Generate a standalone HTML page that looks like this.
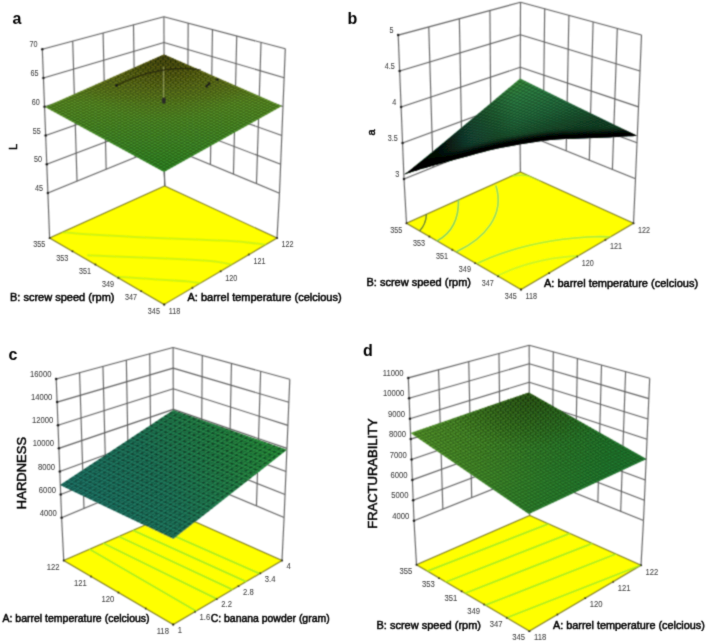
<!DOCTYPE html>
<html lang="en"><head><meta charset="utf-8"><title>Response surface plots</title>
<style>html,body{margin:0;padding:0;background:#fff}svg{display:block}text{font-family:"Liberation Sans",Arial,sans-serif}</style></head>
<body>
<svg width="708" height="642" viewBox="0 0 708 642">
<defs><pattern id="vs" patternUnits="userSpaceOnUse" width="5" height="6"><rect x="0" y="0" width="1.2" height="3.4" fill="#0c1c02"/><rect x="2.5" y="3" width="1.2" height="3.4" fill="#0c1c02"/></pattern>
<pattern id="dots" patternUnits="userSpaceOnUse" width="1" height="1" patternTransform="matrix(4.72 -3.125 4.72 2.25 60 485)"><rect x="0" y="0" width="0.4" height="0.4" fill="#02140f"/></pattern>
<radialGradient id="mag" gradientUnits="userSpaceOnUse" cx="164" cy="56" r="62" gradientTransform="translate(164 56) scale(1.9 1) translate(-164 -56)"><stop offset="0" stop-color="#fff" stop-opacity="0.85"/><stop offset="0.5" stop-color="#fff" stop-opacity="0.4"/><stop offset="1" stop-color="#fff" stop-opacity="0.05"/></radialGradient>
<mask id="ma" maskUnits="userSpaceOnUse" x="0" y="0" width="708" height="642"><rect width="708" height="642" fill="url(#mag)"/></mask>
<radialGradient id="mdg" gradientUnits="userSpaceOnUse" cx="528.8" cy="394" r="85" gradientTransform="translate(528.8 394) scale(1.7 1) translate(-528.8 -394)"><stop offset="0" stop-color="#fff" stop-opacity="0.8"/><stop offset="0.5" stop-color="#fff" stop-opacity="0.45"/><stop offset="1" stop-color="#fff" stop-opacity="0.12"/></radialGradient>
<mask id="md" maskUnits="userSpaceOnUse" x="0" y="0" width="708" height="642"><rect width="708" height="642" fill="url(#mdg)"/></mask>
<radialGradient id="mcg" gradientUnits="userSpaceOnUse" cx="200" cy="445" r="120" gradientTransform="translate(200 445) scale(1.5 1) translate(-200 -445)"><stop offset="0" stop-color="#fff" stop-opacity="0.75"/><stop offset="0.5" stop-color="#fff" stop-opacity="0.55"/><stop offset="1" stop-color="#fff" stop-opacity="0.3"/></radialGradient>
<mask id="mc" maskUnits="userSpaceOnUse" x="0" y="0" width="708" height="642"><rect width="708" height="642" fill="url(#mcg)"/></mask>
<linearGradient id="ga" gradientUnits="userSpaceOnUse" x1="164" y1="54" x2="164" y2="172"><stop offset="0" stop-color="#5f5c14"/><stop offset="0.18" stop-color="#6f7a1c"/><stop offset="0.42" stop-color="#5e9428"/><stop offset="0.75" stop-color="#44902a"/><stop offset="1" stop-color="#2f8a26"/></linearGradient>
<radialGradient id="ga2" gradientUnits="userSpaceOnUse" cx="164" cy="58" r="62" gradientTransform="translate(164 58) scale(1.6 1) translate(-164 -58)"><stop offset="0" stop-color="#55500f" stop-opacity="0.85"/><stop offset="0.55" stop-color="#6a7018" stop-opacity="0.45"/><stop offset="1" stop-color="#6a7018" stop-opacity="0"/></radialGradient>
<linearGradient id="gb" gradientUnits="userSpaceOnUse" x1="505" y1="78" x2="530" y2="146"><stop offset="0" stop-color="#3c8c34"/><stop offset="0.3" stop-color="#2e8244"/><stop offset="0.65" stop-color="#246e3e"/><stop offset="1" stop-color="#174a2a"/></linearGradient>
<radialGradient id="gb3" gradientUnits="userSpaceOnUse" cx="462" cy="138" r="34"><stop offset="0" stop-color="#2a8a78" stop-opacity="0.75"/><stop offset="1" stop-color="#2a8a78" stop-opacity="0"/></radialGradient>
<linearGradient id="gb2" gradientUnits="userSpaceOnUse" x1="404" y1="0" x2="515" y2="0"><stop offset="0" stop-color="#000" stop-opacity="1"/><stop offset="0.32" stop-color="#000" stop-opacity="0.88"/><stop offset="0.6" stop-color="#000" stop-opacity="0.4"/><stop offset="1" stop-color="#000" stop-opacity="0"/></linearGradient>
<filter id="bl3" x="-10%" y="-50%" width="120%" height="200%"><feGaussianBlur stdDeviation="2.2"/></filter>
<linearGradient id="gc" gradientUnits="userSpaceOnUse" x1="95" y1="520" x2="262" y2="420"><stop offset="0" stop-color="#1f7668"/><stop offset="0.4" stop-color="#217a5c"/><stop offset="0.75" stop-color="#278846"/><stop offset="1" stop-color="#2a943a"/></linearGradient>
<linearGradient id="gd" gradientUnits="userSpaceOnUse" x1="425" y1="420" x2="600" y2="500"><stop offset="0" stop-color="#57982c"/><stop offset="0.35" stop-color="#478e2a"/><stop offset="0.7" stop-color="#2f822e"/><stop offset="1" stop-color="#217a30"/></linearGradient>
<radialGradient id="gd2" gradientUnits="userSpaceOnUse" cx="528" cy="398" r="50" gradientTransform="translate(528 398) scale(1.7 1) translate(-528 -398)"><stop offset="0" stop-color="#2a4a10" stop-opacity="0.6"/><stop offset="1" stop-color="#2a4a10" stop-opacity="0"/></radialGradient><filter id="soft" x="-2%" y="-2%" width="104%" height="104%"><feConvolveMatrix order="3" kernelMatrix="0.0400 0.1200 0.0400 0.1200 0.3600 0.1200 0.0400 0.1200 0.0400" edgeMode="duplicate" preserveAlpha="false"/></filter><filter id="softt" x="-2%" y="-2%" width="104%" height="104%"><feConvolveMatrix order="3" kernelMatrix="0.0169 0.0962 0.0169 0.0962 0.5476 0.0962 0.0169 0.0962 0.0169" edgeMode="duplicate" preserveAlpha="false"/></filter></defs>
<rect width="708" height="642" fill="#fff"/>
<g filter="url(#soft)">
<g>
<g class="walls">
<line x1="42.3" y1="49.2" x2="163.9" y2="16.7" stroke="#5e5e5e" stroke-width="1.12"/>
<line x1="43.42" y1="77.98" x2="164" y2="42.46" stroke="#5e5e5e" stroke-width="1.12"/>
<line x1="44.54" y1="106.76" x2="164.1" y2="68.22" stroke="#5e5e5e" stroke-width="1.12"/>
<line x1="45.66" y1="135.54" x2="164.2" y2="93.98" stroke="#5e5e5e" stroke-width="1.12"/>
<line x1="46.78" y1="164.32" x2="164.3" y2="119.74" stroke="#5e5e5e" stroke-width="1.12"/>
<line x1="47.9" y1="193.1" x2="164.4" y2="145.5" stroke="#5e5e5e" stroke-width="1.12"/>
<line x1="42.3" y1="49.2" x2="47.9" y2="193.1" stroke="#5e5e5e" stroke-width="1.12"/>
<line x1="72.7" y1="41.08" x2="77.03" y2="181.2" stroke="#5e5e5e" stroke-width="1.12"/>
<line x1="103.1" y1="32.95" x2="106.15" y2="169.3" stroke="#5e5e5e" stroke-width="1.12"/>
<line x1="133.5" y1="24.83" x2="135.28" y2="157.4" stroke="#5e5e5e" stroke-width="1.12"/>
<line x1="285.3" y1="48.8" x2="163.9" y2="16.7" stroke="#5e5e5e" stroke-width="1.12"/>
<line x1="284.14" y1="77.68" x2="164" y2="42.46" stroke="#5e5e5e" stroke-width="1.12"/>
<line x1="282.98" y1="106.56" x2="164.1" y2="68.22" stroke="#5e5e5e" stroke-width="1.12"/>
<line x1="281.82" y1="135.44" x2="164.2" y2="93.98" stroke="#5e5e5e" stroke-width="1.12"/>
<line x1="280.66" y1="164.32" x2="164.3" y2="119.74" stroke="#5e5e5e" stroke-width="1.12"/>
<line x1="279.5" y1="193.2" x2="164.4" y2="145.5" stroke="#5e5e5e" stroke-width="1.12"/>
<line x1="285.3" y1="48.8" x2="279.5" y2="193.2" stroke="#5e5e5e" stroke-width="1.12"/>
<line x1="261.02" y1="42.38" x2="256.48" y2="183.66" stroke="#5e5e5e" stroke-width="1.12"/>
<line x1="236.74" y1="35.96" x2="233.46" y2="174.12" stroke="#5e5e5e" stroke-width="1.12"/>
<line x1="212.46" y1="29.54" x2="210.44" y2="164.58" stroke="#5e5e5e" stroke-width="1.12"/>
<line x1="188.18" y1="23.12" x2="187.42" y2="155.04" stroke="#5e5e5e" stroke-width="1.12"/>
<line x1="47.9" y1="193.1" x2="49.6" y2="238" stroke="#5e5e5e" stroke-width="1.12"/>
<line x1="279.5" y1="193.2" x2="277" y2="238" stroke="#5e5e5e" stroke-width="1.12"/>
<line x1="163.9" y1="16.7" x2="164.4" y2="145.5" stroke="#5e5e5e" stroke-width="1.12"/>
<line x1="164.4" y1="145.5" x2="164.6" y2="186" stroke="#5e5e5e" stroke-width="1.12"/>
</g>
<polygon points="49.6,238 164.6,186 277,238 164.2,304.4" fill="#ffff00" stroke="#727014" stroke-width="1.1" stroke-linejoin="round"/>
<clipPath id="cfa"><polygon points="49.6,238 164.6,186 277,238 164.2,304.4"/></clipPath>
<g fill="none" stroke-linecap="round" clip-path="url(#cfa)">
<path d="M60,232 C100,236 170,238.700 226.800,240.700 C245,241.500 258,243.500 272,246" stroke="#b6ee14" stroke-width="2.1" opacity="0.65"/>
<path d="M88,255.300 C120,257 170,257.900 210.600,261 C222,262 230,264 240,266.500" stroke="#b6ee14" stroke-width="2.1" opacity="0.65"/>
<path d="M114,276.500 C140,278.500 170,280.200 186.300,281.200 C194,282 200,283 208,285" stroke="#b6ee14" stroke-width="2.1" opacity="0.65"/>
</g>
<g><polygon points="45,107 164,54.5 282,106 164,172" fill="url(#ga)"/><polygon points="45,107 164,54.5 282,106 164,172" fill="url(#ga2)"/><g stroke="#122404" stroke-width="0.6" opacity="0.6"><line x1="47.98" y1="105.69" x2="166.95" y2="170.35"/><line x1="50.95" y1="104.38" x2="169.9" y2="168.7"/><line x1="53.92" y1="103.06" x2="172.85" y2="167.05"/><line x1="56.9" y1="101.75" x2="175.8" y2="165.4"/><line x1="59.88" y1="100.44" x2="178.75" y2="163.75"/><line x1="62.85" y1="99.12" x2="181.7" y2="162.1"/><line x1="65.83" y1="97.81" x2="184.65" y2="160.45"/><line x1="68.8" y1="96.5" x2="187.6" y2="158.8"/><line x1="71.78" y1="95.19" x2="190.55" y2="157.15"/><line x1="74.75" y1="93.88" x2="193.5" y2="155.5"/><line x1="77.72" y1="92.56" x2="196.45" y2="153.85"/><line x1="80.7" y1="91.25" x2="199.4" y2="152.2"/><line x1="83.68" y1="89.94" x2="202.35" y2="150.55"/><line x1="86.65" y1="88.62" x2="205.3" y2="148.9"/><line x1="89.62" y1="87.31" x2="208.25" y2="147.25"/><line x1="92.6" y1="86" x2="211.2" y2="145.6"/><line x1="95.57" y1="84.69" x2="214.15" y2="143.95"/><line x1="98.55" y1="83.38" x2="217.1" y2="142.3"/><line x1="101.53" y1="82.06" x2="220.05" y2="140.65"/><line x1="104.5" y1="80.75" x2="223" y2="139"/><line x1="107.47" y1="79.44" x2="225.95" y2="137.35"/><line x1="110.45" y1="78.12" x2="228.9" y2="135.7"/><line x1="113.42" y1="76.81" x2="231.85" y2="134.05"/><line x1="116.4" y1="75.5" x2="234.8" y2="132.4"/><line x1="119.38" y1="74.19" x2="237.75" y2="130.75"/><line x1="122.35" y1="72.88" x2="240.7" y2="129.1"/><line x1="125.33" y1="71.56" x2="243.65" y2="127.45"/><line x1="128.3" y1="70.25" x2="246.6" y2="125.8"/><line x1="131.27" y1="68.94" x2="249.55" y2="124.15"/><line x1="134.25" y1="67.62" x2="252.5" y2="122.5"/><line x1="137.23" y1="66.31" x2="255.45" y2="120.85"/><line x1="140.2" y1="65" x2="258.4" y2="119.2"/><line x1="143.18" y1="63.69" x2="261.35" y2="117.55"/><line x1="146.15" y1="62.38" x2="264.3" y2="115.9"/><line x1="149.12" y1="61.06" x2="267.25" y2="114.25"/><line x1="152.1" y1="59.75" x2="270.2" y2="112.6"/><line x1="155.07" y1="58.44" x2="273.15" y2="110.95"/><line x1="158.05" y1="57.12" x2="276.1" y2="109.3"/><line x1="161.02" y1="55.81" x2="279.05" y2="107.65"/><line x1="47.98" y1="108.62" x2="166.95" y2="55.79"/><line x1="50.95" y1="110.25" x2="169.9" y2="57.08"/><line x1="53.92" y1="111.88" x2="172.85" y2="58.36"/><line x1="56.9" y1="113.5" x2="175.8" y2="59.65"/><line x1="59.88" y1="115.12" x2="178.75" y2="60.94"/><line x1="62.85" y1="116.75" x2="181.7" y2="62.23"/><line x1="65.83" y1="118.38" x2="184.65" y2="63.51"/><line x1="68.8" y1="120" x2="187.6" y2="64.8"/><line x1="71.78" y1="121.62" x2="190.55" y2="66.09"/><line x1="74.75" y1="123.25" x2="193.5" y2="67.38"/><line x1="77.72" y1="124.88" x2="196.45" y2="68.66"/><line x1="80.7" y1="126.5" x2="199.4" y2="69.95"/><line x1="83.68" y1="128.12" x2="202.35" y2="71.24"/><line x1="86.65" y1="129.75" x2="205.3" y2="72.53"/><line x1="89.62" y1="131.38" x2="208.25" y2="73.81"/><line x1="92.6" y1="133" x2="211.2" y2="75.1"/><line x1="95.57" y1="134.62" x2="214.15" y2="76.39"/><line x1="98.55" y1="136.25" x2="217.1" y2="77.67"/><line x1="101.53" y1="137.88" x2="220.05" y2="78.96"/><line x1="104.5" y1="139.5" x2="223" y2="80.25"/><line x1="107.47" y1="141.12" x2="225.95" y2="81.54"/><line x1="110.45" y1="142.75" x2="228.9" y2="82.83"/><line x1="113.42" y1="144.38" x2="231.85" y2="84.11"/><line x1="116.4" y1="146" x2="234.8" y2="85.4"/><line x1="119.38" y1="147.62" x2="237.75" y2="86.69"/><line x1="122.35" y1="149.25" x2="240.7" y2="87.97"/><line x1="125.33" y1="150.88" x2="243.65" y2="89.26"/><line x1="128.3" y1="152.5" x2="246.6" y2="90.55"/><line x1="131.27" y1="154.12" x2="249.55" y2="91.84"/><line x1="134.25" y1="155.75" x2="252.5" y2="93.12"/><line x1="137.23" y1="157.38" x2="255.45" y2="94.41"/><line x1="140.2" y1="159" x2="258.4" y2="95.7"/><line x1="143.18" y1="160.62" x2="261.35" y2="96.99"/><line x1="146.15" y1="162.25" x2="264.3" y2="98.28"/><line x1="149.12" y1="163.88" x2="267.25" y2="99.56"/><line x1="152.1" y1="165.5" x2="270.2" y2="100.85"/><line x1="155.07" y1="167.12" x2="273.15" y2="102.14"/><line x1="158.05" y1="168.75" x2="276.1" y2="103.42"/><line x1="161.02" y1="170.38" x2="279.05" y2="104.71"/></g><polygon points="45,107 164,54.5 282,106 164,172" fill="url(#vs)" mask="url(#ma)"/><line x1="163.6" y1="67" x2="163.6" y2="98" stroke="#d4dc9a" stroke-width="1.1" opacity="0.45"/><path d="M116.5,85.4 C128,79.5 146,72.5 164.3,69.8 C176,68.3 190,67.6 201,70" fill="none" stroke="#1c1a06" stroke-width="1.2" opacity="0.75"/><circle cx="116.5" cy="85.6" r="1.6" fill="#1a1a1a"/><circle cx="217.5" cy="79.7" r="1.4" fill="#1a1a1a"/><path d="M205.6,87.2 L210.2,82.6" stroke="#1a1a1a" stroke-width="2.2"/><ellipse cx="163.8" cy="100.5" rx="2.1" ry="3.3" fill="#2c2c26"/><line x1="164" y1="172" x2="165" y2="186" stroke="#5e5e5e" stroke-width="1.12"/></g>
<circle cx="42.3" cy="49.2" r="1.25" fill="#111"/>
<circle cx="43.42" cy="77.98" r="1.25" fill="#111"/>
<circle cx="44.54" cy="106.76" r="1.25" fill="#111"/>
<circle cx="45.66" cy="135.54" r="1.25" fill="#111"/>
<circle cx="46.78" cy="164.32" r="1.25" fill="#111"/>
<circle cx="47.9" cy="193.1" r="1.25" fill="#111"/>
<circle cx="49.6" cy="238" r="1" fill="#111"/>
<circle cx="72.52" cy="251.28" r="1" fill="#111"/>
<circle cx="95.44" cy="264.56" r="1" fill="#111"/>
<circle cx="118.36" cy="277.84" r="1" fill="#111"/>
<circle cx="141.28" cy="291.12" r="1" fill="#111"/>
<circle cx="164.2" cy="304.4" r="1" fill="#111"/>
<circle cx="277" cy="238" r="1" fill="#111"/>
<circle cx="248.8" cy="254.6" r="1" fill="#111"/>
<circle cx="220.6" cy="271.2" r="1" fill="#111"/>
<circle cx="192.4" cy="287.8" r="1" fill="#111"/>
<circle cx="164.2" cy="304.4" r="1" fill="#111"/>
</g>
<g>
<g class="walls">
<line x1="398.2" y1="35.1" x2="520.5" y2="2.3" stroke="#5e5e5e" stroke-width="1.12"/>
<line x1="399.65" y1="71.08" x2="520.38" y2="34.8" stroke="#5e5e5e" stroke-width="1.12"/>
<line x1="401.1" y1="107.05" x2="520.25" y2="67.3" stroke="#5e5e5e" stroke-width="1.12"/>
<line x1="402.55" y1="143.03" x2="520.12" y2="99.8" stroke="#5e5e5e" stroke-width="1.12"/>
<line x1="404" y1="179" x2="520" y2="132.3" stroke="#5e5e5e" stroke-width="1.12"/>
<line x1="398.2" y1="35.1" x2="404" y2="179" stroke="#5e5e5e" stroke-width="1.12"/>
<line x1="428.77" y1="26.9" x2="433" y2="167.32" stroke="#5e5e5e" stroke-width="1.12"/>
<line x1="459.35" y1="18.7" x2="462" y2="155.65" stroke="#5e5e5e" stroke-width="1.12"/>
<line x1="489.93" y1="10.5" x2="491" y2="143.98" stroke="#5e5e5e" stroke-width="1.12"/>
<line x1="641.5" y1="35" x2="520.5" y2="2.3" stroke="#5e5e5e" stroke-width="1.12"/>
<line x1="640" y1="70.94" x2="520.38" y2="34.8" stroke="#5e5e5e" stroke-width="1.12"/>
<line x1="638.5" y1="106.88" x2="520.25" y2="67.3" stroke="#5e5e5e" stroke-width="1.12"/>
<line x1="637" y1="142.81" x2="520.12" y2="99.8" stroke="#5e5e5e" stroke-width="1.12"/>
<line x1="635.5" y1="178.75" x2="520" y2="132.3" stroke="#5e5e5e" stroke-width="1.12"/>
<line x1="641.5" y1="35" x2="635.5" y2="178.75" stroke="#5e5e5e" stroke-width="1.12"/>
<line x1="617.3" y1="28.46" x2="612.4" y2="169.46" stroke="#5e5e5e" stroke-width="1.12"/>
<line x1="593.1" y1="21.92" x2="589.3" y2="160.17" stroke="#5e5e5e" stroke-width="1.12"/>
<line x1="568.9" y1="15.38" x2="566.2" y2="150.88" stroke="#5e5e5e" stroke-width="1.12"/>
<line x1="544.7" y1="8.84" x2="543.1" y2="141.59" stroke="#5e5e5e" stroke-width="1.12"/>
<line x1="404" y1="179" x2="406.5" y2="223.25" stroke="#5e5e5e" stroke-width="1.12"/>
<line x1="635.5" y1="178.75" x2="633.5" y2="223.25" stroke="#5e5e5e" stroke-width="1.12"/>
<line x1="520.5" y1="2.3" x2="520" y2="132.3" stroke="#5e5e5e" stroke-width="1.12"/>
<line x1="520" y1="132.3" x2="520.4" y2="172.1" stroke="#5e5e5e" stroke-width="1.12"/>
</g>
<polygon points="406.5,223.25 520.4,172.1 633.5,223.25 521,289.5" fill="#ffff00" stroke="#727014" stroke-width="1.1" stroke-linejoin="round"/>
<clipPath id="cfb"><polygon points="406.5,223.25 520.4,172.1 633.5,223.25 521,289.5"/></clipPath>
<g fill="none" stroke-linecap="round" clip-path="url(#cfb)">
<path d="M419.5,231 C423.5,227 426,221 426.5,214.5" stroke="#3c6a30" stroke-width="1.3"/>
<path d="M437,241 C452,233 459,218 458.500,199" stroke="#6fd060" stroke-width="1.5"/>
<path d="M457,251.500 C485,238 505,215 496,186" stroke="#7fd860" stroke-width="1.5"/>
<path d="M478,263 C510,248 550,238 600,236.500 C612,236.500 620,238 625,241" stroke="#a4ec38" stroke-width="1.6"/>
<path d="M497,276 C525,262 560,255 590,256" stroke="#bcf22c" stroke-width="1.6" opacity="0.8"/>
<path d="M513,176 C524,174 534,177 540,181" stroke="#b4f02c" stroke-width="1.5"/>
</g>
<g><path d="M404.5,174 L408.5,171.6 L437.4,147.7 L474.8,116.4 L520.1,78.5 L580,108 L637.1,135.7 C632.28,136.15 617.72,136.97 608.2,137.4 C598.68,137.83 588.03,138.18 580,138.5 C571.97,138.82 566.67,138.85 560,139.3 C553.33,139.75 546.58,140.37 540,141.2 C533.42,142.03 527.17,143.17 520.5,144.3 C513.83,145.43 506.75,146.58 500,148 C493.25,149.42 489.13,150.4 480,152.8 C470.87,155.2 454.77,159.77 445.2,162.4 C435.63,165.03 429.38,166.58 422.6,168.6 C415.82,170.62 407.52,173.52 404.5,174.5 Z" fill="url(#gb)"/><clipPath id="cb"><path d="M404.5,174 L408.5,171.6 L437.4,147.7 L474.8,116.4 L520.1,78.5 L580,108 L637.1,135.7 C632.28,136.15 617.72,136.97 608.2,137.4 C598.68,137.83 588.03,138.18 580,138.5 C571.97,138.82 566.67,138.85 560,139.3 C553.33,139.75 546.58,140.37 540,141.2 C533.42,142.03 527.17,143.17 520.5,144.3 C513.83,145.43 506.75,146.58 500,148 C493.25,149.42 489.13,150.4 480,152.8 C470.87,155.2 454.77,159.77 445.2,162.4 C435.63,165.03 429.38,166.58 422.6,168.6 C415.82,170.62 407.52,173.52 404.5,174.5 Z"/></clipPath><g clip-path="url(#cb)"><path d="M404.5,174 L408.5,171.6 L437.4,147.7 L474.8,116.4 L520.1,78.5 L580,108 L637.1,135.7 C632.28,136.15 617.72,136.97 608.2,137.4 C598.68,137.83 588.03,138.18 580,138.5 C571.97,138.82 566.67,138.85 560,139.3 C553.33,139.75 546.58,140.37 540,141.2 C533.42,142.03 527.17,143.17 520.5,144.3 C513.83,145.43 506.75,146.58 500,148 C493.25,149.42 489.13,150.4 480,152.8 C470.87,155.2 454.77,159.77 445.2,162.4 C435.63,165.03 429.38,166.58 422.6,168.6 C415.82,170.62 407.52,173.52 404.5,174.5 Z" fill="url(#gb3)"/><path d="M404.5,174 L408.5,171.6 L437.4,147.7 L474.8,116.4 L520.1,78.5 L580,108 L637.1,135.7 C632.28,136.15 617.72,136.97 608.2,137.4 C598.68,137.83 588.03,138.18 580,138.5 C571.97,138.82 566.67,138.85 560,139.3 C553.33,139.75 546.58,140.37 540,141.2 C533.42,142.03 527.17,143.17 520.5,144.3 C513.83,145.43 506.75,146.58 500,148 C493.25,149.42 489.13,150.4 480,152.8 C470.87,155.2 454.77,159.77 445.2,162.4 C435.63,165.03 429.38,166.58 422.6,168.6 C415.82,170.62 407.52,173.52 404.5,174.5 Z" fill="url(#gb2)"/><g stroke="#020c06" stroke-width="0.6" opacity="0.55"><line x1="407.05" y1="171.47" x2="523.08" y2="159.34"/><line x1="410.11" y1="168.95" x2="526.16" y2="158.68"/><line x1="413.16" y1="166.42" x2="529.24" y2="158.03"/><line x1="416.21" y1="163.89" x2="532.32" y2="157.37"/><line x1="419.26" y1="161.37" x2="535.39" y2="156.71"/><line x1="422.32" y1="158.84" x2="538.47" y2="156.05"/><line x1="425.37" y1="156.32" x2="541.55" y2="155.39"/><line x1="428.42" y1="153.79" x2="544.63" y2="154.74"/><line x1="431.47" y1="151.26" x2="547.71" y2="154.08"/><line x1="434.53" y1="148.74" x2="550.79" y2="153.42"/><line x1="437.58" y1="146.21" x2="553.87" y2="152.76"/><line x1="440.63" y1="143.68" x2="556.95" y2="152.11"/><line x1="443.68" y1="141.16" x2="560.03" y2="151.45"/><line x1="446.74" y1="138.63" x2="563.11" y2="150.79"/><line x1="449.79" y1="136.11" x2="566.18" y2="150.13"/><line x1="452.84" y1="133.58" x2="569.26" y2="149.47"/><line x1="455.89" y1="131.05" x2="572.34" y2="148.82"/><line x1="458.95" y1="128.53" x2="575.42" y2="148.16"/><line x1="462" y1="126" x2="578.5" y2="147.5"/><line x1="465.05" y1="123.47" x2="581.58" y2="146.84"/><line x1="468.11" y1="120.95" x2="584.66" y2="146.18"/><line x1="471.16" y1="118.42" x2="587.74" y2="145.53"/><line x1="474.21" y1="115.89" x2="590.82" y2="144.87"/><line x1="477.26" y1="113.37" x2="593.89" y2="144.21"/><line x1="480.32" y1="110.84" x2="596.97" y2="143.55"/><line x1="483.37" y1="108.32" x2="600.05" y2="142.89"/><line x1="486.42" y1="105.79" x2="603.13" y2="142.24"/><line x1="489.47" y1="103.26" x2="606.21" y2="141.58"/><line x1="492.53" y1="100.74" x2="609.29" y2="140.92"/><line x1="495.58" y1="98.21" x2="612.37" y2="140.26"/><line x1="498.63" y1="95.68" x2="615.45" y2="139.61"/><line x1="501.68" y1="93.16" x2="618.53" y2="138.95"/><line x1="504.74" y1="90.63" x2="621.61" y2="138.29"/><line x1="507.79" y1="88.11" x2="624.68" y2="137.63"/><line x1="510.84" y1="85.58" x2="627.76" y2="136.97"/><line x1="513.89" y1="83.05" x2="630.84" y2="136.32"/><line x1="516.95" y1="80.53" x2="633.92" y2="135.66"/><line x1="407.05" y1="173.63" x2="523.08" y2="79.5"/><line x1="410.11" y1="173.26" x2="526.16" y2="81"/><line x1="413.16" y1="172.89" x2="529.24" y2="82.5"/><line x1="416.21" y1="172.53" x2="532.32" y2="84"/><line x1="419.26" y1="172.16" x2="535.39" y2="85.5"/><line x1="422.32" y1="171.79" x2="538.47" y2="87"/><line x1="425.37" y1="171.42" x2="541.55" y2="88.5"/><line x1="428.42" y1="171.05" x2="544.63" y2="90"/><line x1="431.47" y1="170.68" x2="547.71" y2="91.5"/><line x1="434.53" y1="170.32" x2="550.79" y2="93"/><line x1="437.58" y1="169.95" x2="553.87" y2="94.5"/><line x1="440.63" y1="169.58" x2="556.95" y2="96"/><line x1="443.68" y1="169.21" x2="560.03" y2="97.5"/><line x1="446.74" y1="168.84" x2="563.11" y2="99"/><line x1="449.79" y1="168.47" x2="566.18" y2="100.5"/><line x1="452.84" y1="168.11" x2="569.26" y2="102"/><line x1="455.89" y1="167.74" x2="572.34" y2="103.5"/><line x1="458.95" y1="167.37" x2="575.42" y2="105"/><line x1="462" y1="167" x2="578.5" y2="106.5"/><line x1="465.05" y1="166.63" x2="581.58" y2="108"/><line x1="468.11" y1="166.26" x2="584.66" y2="109.5"/><line x1="471.16" y1="165.89" x2="587.74" y2="111"/><line x1="474.21" y1="165.53" x2="590.82" y2="112.5"/><line x1="477.26" y1="165.16" x2="593.89" y2="114"/><line x1="480.32" y1="164.79" x2="596.97" y2="115.5"/><line x1="483.37" y1="164.42" x2="600.05" y2="117"/><line x1="486.42" y1="164.05" x2="603.13" y2="118.5"/><line x1="489.47" y1="163.68" x2="606.21" y2="120"/><line x1="492.53" y1="163.32" x2="609.29" y2="121.5"/><line x1="495.58" y1="162.95" x2="612.37" y2="123"/><line x1="498.63" y1="162.58" x2="615.45" y2="124.5"/><line x1="501.68" y1="162.21" x2="618.53" y2="126"/><line x1="504.74" y1="161.84" x2="621.61" y2="127.5"/><line x1="507.79" y1="161.47" x2="624.68" y2="129"/><line x1="510.84" y1="161.11" x2="627.76" y2="130.5"/><line x1="513.89" y1="160.74" x2="630.84" y2="132"/><line x1="516.95" y1="160.37" x2="633.92" y2="133.5"/></g><path d="M640,135.4 C632.28,136.15 617.72,136.97 608.2,137.4 C598.68,137.83 588.03,138.18 580,138.5 C571.97,138.82 566.67,138.85 560,139.3 C553.33,139.75 546.58,140.37 540,141.2 C533.42,142.03 527.17,143.17 520.5,144.3 C513.83,145.43 506.75,146.58 500,148 C493.25,149.42 489.13,150.4 480,152.8 C470.87,155.2 454.77,159.77 445.2,162.4 C435.63,165.03 429.38,166.58 422.6,168.6 C415.82,170.62 407.52,173.52 404.5,174.5 L400,176 L400,190 L640,150 Z" fill="#000" stroke="#000" stroke-width="13" stroke-linejoin="round" filter="url(#bl3)"/></g></g>
<circle cx="398.2" cy="35.1" r="1.25" fill="#111"/>
<circle cx="399.65" cy="71.08" r="1.25" fill="#111"/>
<circle cx="401.1" cy="107.05" r="1.25" fill="#111"/>
<circle cx="402.55" cy="143.03" r="1.25" fill="#111"/>
<circle cx="404" cy="179" r="1.25" fill="#111"/>
<circle cx="406.5" cy="223.25" r="1" fill="#111"/>
<circle cx="429.4" cy="236.5" r="1" fill="#111"/>
<circle cx="452.3" cy="249.75" r="1" fill="#111"/>
<circle cx="475.2" cy="263" r="1" fill="#111"/>
<circle cx="498.1" cy="276.25" r="1" fill="#111"/>
<circle cx="521" cy="289.5" r="1" fill="#111"/>
<circle cx="633.5" cy="223.25" r="1" fill="#111"/>
<circle cx="605.38" cy="239.81" r="1" fill="#111"/>
<circle cx="577.25" cy="256.38" r="1" fill="#111"/>
<circle cx="549.12" cy="272.94" r="1" fill="#111"/>
<circle cx="521" cy="289.5" r="1" fill="#111"/>
</g>
<g>
<g class="walls">
<line x1="56.2" y1="379" x2="173.1" y2="347.5" stroke="#5e5e5e" stroke-width="1.12"/>
<line x1="57.1" y1="402.12" x2="173.17" y2="368.12" stroke="#5e5e5e" stroke-width="1.12"/>
<line x1="58" y1="425.23" x2="173.23" y2="388.73" stroke="#5e5e5e" stroke-width="1.12"/>
<line x1="58.9" y1="448.35" x2="173.3" y2="409.35" stroke="#5e5e5e" stroke-width="1.12"/>
<line x1="59.8" y1="471.47" x2="173.37" y2="429.97" stroke="#5e5e5e" stroke-width="1.12"/>
<line x1="60.7" y1="494.58" x2="173.43" y2="450.58" stroke="#5e5e5e" stroke-width="1.12"/>
<line x1="61.6" y1="517.7" x2="173.5" y2="471.2" stroke="#5e5e5e" stroke-width="1.12"/>
<line x1="56.2" y1="379" x2="61.6" y2="517.7" stroke="#5e5e5e" stroke-width="1.12"/>
<line x1="79.58" y1="372.7" x2="83.98" y2="508.4" stroke="#5e5e5e" stroke-width="1.12"/>
<line x1="102.96" y1="366.4" x2="106.36" y2="499.1" stroke="#5e5e5e" stroke-width="1.12"/>
<line x1="126.34" y1="360.1" x2="128.74" y2="489.8" stroke="#5e5e5e" stroke-width="1.12"/>
<line x1="149.72" y1="353.8" x2="151.12" y2="480.5" stroke="#5e5e5e" stroke-width="1.12"/>
<line x1="289.8" y1="379.3" x2="173.1" y2="347.5" stroke="#5e5e5e" stroke-width="1.12"/>
<line x1="288.85" y1="402.33" x2="173.17" y2="368.12" stroke="#5e5e5e" stroke-width="1.12"/>
<line x1="287.9" y1="425.37" x2="173.23" y2="388.73" stroke="#5e5e5e" stroke-width="1.12"/>
<line x1="286.95" y1="448.4" x2="173.3" y2="409.35" stroke="#5e5e5e" stroke-width="1.12"/>
<line x1="286" y1="471.43" x2="173.37" y2="429.97" stroke="#5e5e5e" stroke-width="1.12"/>
<line x1="285.05" y1="494.47" x2="173.43" y2="450.58" stroke="#5e5e5e" stroke-width="1.12"/>
<line x1="284.1" y1="517.5" x2="173.5" y2="471.2" stroke="#5e5e5e" stroke-width="1.12"/>
<line x1="289.8" y1="379.3" x2="284.1" y2="517.5" stroke="#5e5e5e" stroke-width="1.12"/>
<line x1="260.62" y1="371.35" x2="256.45" y2="505.93" stroke="#5e5e5e" stroke-width="1.12"/>
<line x1="231.45" y1="363.4" x2="228.8" y2="494.35" stroke="#5e5e5e" stroke-width="1.12"/>
<line x1="202.28" y1="355.45" x2="201.15" y2="482.77" stroke="#5e5e5e" stroke-width="1.12"/>
<line x1="61.6" y1="517.7" x2="63.75" y2="560.5" stroke="#5e5e5e" stroke-width="1.12"/>
<line x1="284.1" y1="517.5" x2="282" y2="560.5" stroke="#5e5e5e" stroke-width="1.12"/>
<line x1="173.1" y1="347.5" x2="173.5" y2="471.2" stroke="#5e5e5e" stroke-width="1.12"/>
<line x1="173.5" y1="471.2" x2="174" y2="512.6" stroke="#5e5e5e" stroke-width="1.12"/>
</g>
<polygon points="63.75,560.5 174,512.6 282,560.5 173.2,624.5" fill="#ffff00" stroke="#727014" stroke-width="1.1" stroke-linejoin="round"/>
<clipPath id="cfc"><polygon points="63.75,560.5 174,512.6 282,560.5 173.2,624.5"/></clipPath>
<g fill="none" stroke-linecap="round" clip-path="url(#cfc)">
<line x1="89.66" y1="549.24" x2="196.05" y2="611.06" stroke="#aaee1c" stroke-width="1.8"/>
<line x1="103.44" y1="543.26" x2="216.72" y2="598.9" stroke="#aaee1c" stroke-width="1.8"/>
<line x1="118.88" y1="536.55" x2="232.5" y2="589.62" stroke="#aaee1c" stroke-width="1.8"/>
<line x1="133.21" y1="530.32" x2="246.1" y2="581.62" stroke="#aaee1c" stroke-width="1.8"/>
<line x1="147.54" y1="524.1" x2="259.7" y2="573.62" stroke="#aaee1c" stroke-width="1.8"/>
</g>
<g><polygon points="60,485 173.4,410 287,449.7 173.4,539" fill="url(#gc)"/><g stroke="#04201a" stroke-width="0.6" opacity="0.5"><line x1="62.98" y1="483.03" x2="176.39" y2="536.65"/><line x1="65.97" y1="481.05" x2="179.38" y2="534.3"/><line x1="68.95" y1="479.08" x2="182.37" y2="531.95"/><line x1="71.94" y1="477.11" x2="185.36" y2="529.6"/><line x1="74.92" y1="475.13" x2="188.35" y2="527.25"/><line x1="77.91" y1="473.16" x2="191.34" y2="524.9"/><line x1="80.89" y1="471.18" x2="194.33" y2="522.55"/><line x1="83.87" y1="469.21" x2="197.32" y2="520.2"/><line x1="86.86" y1="467.24" x2="200.31" y2="517.85"/><line x1="89.84" y1="465.26" x2="203.29" y2="515.5"/><line x1="92.83" y1="463.29" x2="206.28" y2="513.15"/><line x1="95.81" y1="461.32" x2="209.27" y2="510.8"/><line x1="98.79" y1="459.34" x2="212.26" y2="508.45"/><line x1="101.78" y1="457.37" x2="215.25" y2="506.1"/><line x1="104.76" y1="455.39" x2="218.24" y2="503.75"/><line x1="107.75" y1="453.42" x2="221.23" y2="501.4"/><line x1="110.73" y1="451.45" x2="224.22" y2="499.05"/><line x1="113.72" y1="449.47" x2="227.21" y2="496.7"/><line x1="116.7" y1="447.5" x2="230.2" y2="494.35"/><line x1="119.68" y1="445.53" x2="233.19" y2="492"/><line x1="122.67" y1="443.55" x2="236.18" y2="489.65"/><line x1="125.65" y1="441.58" x2="239.17" y2="487.3"/><line x1="128.64" y1="439.61" x2="242.16" y2="484.95"/><line x1="131.62" y1="437.63" x2="245.15" y2="482.6"/><line x1="134.61" y1="435.66" x2="248.14" y2="480.25"/><line x1="137.59" y1="433.68" x2="251.13" y2="477.9"/><line x1="140.57" y1="431.71" x2="254.12" y2="475.55"/><line x1="143.56" y1="429.74" x2="257.11" y2="473.2"/><line x1="146.54" y1="427.76" x2="260.09" y2="470.85"/><line x1="149.53" y1="425.79" x2="263.08" y2="468.5"/><line x1="152.51" y1="423.82" x2="266.07" y2="466.15"/><line x1="155.49" y1="421.84" x2="269.06" y2="463.8"/><line x1="158.48" y1="419.87" x2="272.05" y2="461.45"/><line x1="161.46" y1="417.89" x2="275.04" y2="459.1"/><line x1="164.45" y1="415.92" x2="278.03" y2="456.75"/><line x1="167.43" y1="413.95" x2="281.02" y2="454.4"/><line x1="170.42" y1="411.97" x2="284.01" y2="452.05"/><line x1="62.98" y1="486.42" x2="176.39" y2="411.04"/><line x1="65.97" y1="487.84" x2="179.38" y2="412.09"/><line x1="68.95" y1="489.26" x2="182.37" y2="413.13"/><line x1="71.94" y1="490.68" x2="185.36" y2="414.18"/><line x1="74.92" y1="492.11" x2="188.35" y2="415.22"/><line x1="77.91" y1="493.53" x2="191.34" y2="416.27"/><line x1="80.89" y1="494.95" x2="194.33" y2="417.31"/><line x1="83.87" y1="496.37" x2="197.32" y2="418.36"/><line x1="86.86" y1="497.79" x2="200.31" y2="419.4"/><line x1="89.84" y1="499.21" x2="203.29" y2="420.45"/><line x1="92.83" y1="500.63" x2="206.28" y2="421.49"/><line x1="95.81" y1="502.05" x2="209.27" y2="422.54"/><line x1="98.79" y1="503.47" x2="212.26" y2="423.58"/><line x1="101.78" y1="504.89" x2="215.25" y2="424.63"/><line x1="104.76" y1="506.32" x2="218.24" y2="425.67"/><line x1="107.75" y1="507.74" x2="221.23" y2="426.72"/><line x1="110.73" y1="509.16" x2="224.22" y2="427.76"/><line x1="113.72" y1="510.58" x2="227.21" y2="428.81"/><line x1="116.7" y1="512" x2="230.2" y2="429.85"/><line x1="119.68" y1="513.42" x2="233.19" y2="430.89"/><line x1="122.67" y1="514.84" x2="236.18" y2="431.94"/><line x1="125.65" y1="516.26" x2="239.17" y2="432.98"/><line x1="128.64" y1="517.68" x2="242.16" y2="434.03"/><line x1="131.62" y1="519.11" x2="245.15" y2="435.07"/><line x1="134.61" y1="520.53" x2="248.14" y2="436.12"/><line x1="137.59" y1="521.95" x2="251.13" y2="437.16"/><line x1="140.57" y1="523.37" x2="254.12" y2="438.21"/><line x1="143.56" y1="524.79" x2="257.11" y2="439.25"/><line x1="146.54" y1="526.21" x2="260.09" y2="440.3"/><line x1="149.53" y1="527.63" x2="263.08" y2="441.34"/><line x1="152.51" y1="529.05" x2="266.07" y2="442.39"/><line x1="155.49" y1="530.47" x2="269.06" y2="443.43"/><line x1="158.48" y1="531.89" x2="272.05" y2="444.48"/><line x1="161.46" y1="533.32" x2="275.04" y2="445.52"/><line x1="164.45" y1="534.74" x2="278.03" y2="446.57"/><line x1="167.43" y1="536.16" x2="281.02" y2="447.61"/><line x1="170.42" y1="537.58" x2="284.01" y2="448.66"/></g><polygon points="60,485 173.4,410 287,449.7 173.4,539" fill="url(#dots)" mask="url(#mc)"/></g>
<circle cx="56.2" cy="379" r="1.25" fill="#111"/>
<circle cx="57.1" cy="402.12" r="1.25" fill="#111"/>
<circle cx="58" cy="425.23" r="1.25" fill="#111"/>
<circle cx="58.9" cy="448.35" r="1.25" fill="#111"/>
<circle cx="59.8" cy="471.47" r="1.25" fill="#111"/>
<circle cx="60.7" cy="494.58" r="1.25" fill="#111"/>
<circle cx="61.6" cy="517.7" r="1.25" fill="#111"/>
<circle cx="63.75" cy="560.5" r="1" fill="#111"/>
<circle cx="91.11" cy="576.5" r="1" fill="#111"/>
<circle cx="118.47" cy="592.5" r="1" fill="#111"/>
<circle cx="145.84" cy="608.5" r="1" fill="#111"/>
<circle cx="173.2" cy="624.5" r="1" fill="#111"/>
<circle cx="282" cy="560.5" r="1" fill="#111"/>
<circle cx="260.24" cy="573.3" r="1" fill="#111"/>
<circle cx="238.48" cy="586.1" r="1" fill="#111"/>
<circle cx="216.72" cy="598.9" r="1" fill="#111"/>
<circle cx="194.96" cy="611.7" r="1" fill="#111"/>
<circle cx="173.2" cy="624.5" r="1" fill="#111"/>
</g>
<g>
<g class="walls">
<line x1="408.3" y1="377.9" x2="529.2" y2="345.3" stroke="#5e5e5e" stroke-width="1.12"/>
<line x1="409.11" y1="398.3" x2="529.23" y2="363.76" stroke="#5e5e5e" stroke-width="1.12"/>
<line x1="409.93" y1="418.7" x2="529.26" y2="382.21" stroke="#5e5e5e" stroke-width="1.12"/>
<line x1="410.74" y1="439.1" x2="529.29" y2="400.67" stroke="#5e5e5e" stroke-width="1.12"/>
<line x1="411.56" y1="459.5" x2="529.31" y2="419.13" stroke="#5e5e5e" stroke-width="1.12"/>
<line x1="412.37" y1="479.9" x2="529.34" y2="437.59" stroke="#5e5e5e" stroke-width="1.12"/>
<line x1="413.19" y1="500.3" x2="529.37" y2="456.04" stroke="#5e5e5e" stroke-width="1.12"/>
<line x1="414" y1="520.7" x2="529.4" y2="474.5" stroke="#5e5e5e" stroke-width="1.12"/>
<line x1="408.3" y1="377.9" x2="414" y2="520.7" stroke="#5e5e5e" stroke-width="1.12"/>
<line x1="438.53" y1="369.75" x2="442.85" y2="509.15" stroke="#5e5e5e" stroke-width="1.12"/>
<line x1="468.75" y1="361.6" x2="471.7" y2="497.6" stroke="#5e5e5e" stroke-width="1.12"/>
<line x1="498.98" y1="353.45" x2="500.55" y2="486.05" stroke="#5e5e5e" stroke-width="1.12"/>
<line x1="649.7" y1="378.3" x2="529.2" y2="345.3" stroke="#5e5e5e" stroke-width="1.12"/>
<line x1="648.81" y1="398.63" x2="529.23" y2="363.76" stroke="#5e5e5e" stroke-width="1.12"/>
<line x1="647.93" y1="418.96" x2="529.26" y2="382.21" stroke="#5e5e5e" stroke-width="1.12"/>
<line x1="647.04" y1="439.29" x2="529.29" y2="400.67" stroke="#5e5e5e" stroke-width="1.12"/>
<line x1="646.16" y1="459.61" x2="529.31" y2="419.13" stroke="#5e5e5e" stroke-width="1.12"/>
<line x1="645.27" y1="479.94" x2="529.34" y2="437.59" stroke="#5e5e5e" stroke-width="1.12"/>
<line x1="644.39" y1="500.27" x2="529.37" y2="456.04" stroke="#5e5e5e" stroke-width="1.12"/>
<line x1="643.5" y1="520.6" x2="529.4" y2="474.5" stroke="#5e5e5e" stroke-width="1.12"/>
<line x1="649.7" y1="378.3" x2="643.5" y2="520.6" stroke="#5e5e5e" stroke-width="1.12"/>
<line x1="625.6" y1="371.7" x2="620.68" y2="511.38" stroke="#5e5e5e" stroke-width="1.12"/>
<line x1="601.5" y1="365.1" x2="597.86" y2="502.16" stroke="#5e5e5e" stroke-width="1.12"/>
<line x1="577.4" y1="358.5" x2="575.04" y2="492.94" stroke="#5e5e5e" stroke-width="1.12"/>
<line x1="553.3" y1="351.9" x2="552.22" y2="483.72" stroke="#5e5e5e" stroke-width="1.12"/>
<line x1="414" y1="520.7" x2="416.5" y2="564.75" stroke="#5e5e5e" stroke-width="1.12"/>
<line x1="643.5" y1="520.6" x2="641" y2="565.25" stroke="#5e5e5e" stroke-width="1.12"/>
<line x1="529.2" y1="345.3" x2="529.4" y2="474.5" stroke="#5e5e5e" stroke-width="1.12"/>
<line x1="529.4" y1="474.5" x2="529.7" y2="515.5" stroke="#5e5e5e" stroke-width="1.12"/>
</g>
<polygon points="416.5,564.75 529.7,515.5 641,565.25 529.4,631" fill="#ffff00" stroke="#727014" stroke-width="1.1" stroke-linejoin="round"/>
<clipPath id="cfd"><polygon points="416.5,564.75 529.7,515.5 641,565.25 529.4,631"/></clipPath>
<g fill="none" stroke-linecap="round" clip-path="url(#cfd)">
<line x1="427.45" y1="571.18" x2="567.45" y2="516.3" stroke="#aaee1c" stroke-width="1.8"/>
<line x1="445.85" y1="581.98" x2="585.85" y2="527.1" stroke="#aaee1c" stroke-width="1.8"/>
<line x1="465.05" y1="593.24" x2="605.05" y2="538.36" stroke="#aaee1c" stroke-width="1.8"/>
<line x1="485.37" y1="605.16" x2="625.37" y2="550.28" stroke="#aaee1c" stroke-width="1.8"/>
<line x1="506.82" y1="617.75" x2="646.82" y2="562.87" stroke="#aaee1c" stroke-width="1.8"/>
</g>
<g><polygon points="410.5,433 528.8,392.5 646.5,459 528.8,514" fill="url(#gd)"/><polygon points="410.5,433 528.8,392.5 646.5,459 528.8,514" fill="url(#gd2)"/><g stroke="#082406" stroke-width="0.6" opacity="0.5"><line x1="413.61" y1="431.93" x2="531.9" y2="512.55"/><line x1="416.73" y1="430.87" x2="534.99" y2="511.11"/><line x1="419.84" y1="429.8" x2="538.09" y2="509.66"/><line x1="422.95" y1="428.74" x2="541.19" y2="508.21"/><line x1="426.07" y1="427.67" x2="544.29" y2="506.76"/><line x1="429.18" y1="426.61" x2="547.38" y2="505.32"/><line x1="432.29" y1="425.54" x2="550.48" y2="503.87"/><line x1="435.41" y1="424.47" x2="553.58" y2="502.42"/><line x1="438.52" y1="423.41" x2="556.68" y2="500.97"/><line x1="441.63" y1="422.34" x2="559.77" y2="499.53"/><line x1="444.74" y1="421.28" x2="562.87" y2="498.08"/><line x1="447.86" y1="420.21" x2="565.97" y2="496.63"/><line x1="450.97" y1="419.14" x2="569.07" y2="495.18"/><line x1="454.08" y1="418.08" x2="572.16" y2="493.74"/><line x1="457.2" y1="417.01" x2="575.26" y2="492.29"/><line x1="460.31" y1="415.95" x2="578.36" y2="490.84"/><line x1="463.42" y1="414.88" x2="581.46" y2="489.39"/><line x1="466.54" y1="413.82" x2="584.55" y2="487.95"/><line x1="469.65" y1="412.75" x2="587.65" y2="486.5"/><line x1="472.76" y1="411.68" x2="590.75" y2="485.05"/><line x1="475.88" y1="410.62" x2="593.84" y2="483.61"/><line x1="478.99" y1="409.55" x2="596.94" y2="482.16"/><line x1="482.1" y1="408.49" x2="600.04" y2="480.71"/><line x1="485.22" y1="407.42" x2="603.14" y2="479.26"/><line x1="488.33" y1="406.36" x2="606.23" y2="477.82"/><line x1="491.44" y1="405.29" x2="609.33" y2="476.37"/><line x1="494.56" y1="404.22" x2="612.43" y2="474.92"/><line x1="497.67" y1="403.16" x2="615.53" y2="473.47"/><line x1="500.78" y1="402.09" x2="618.62" y2="472.03"/><line x1="503.89" y1="401.03" x2="621.72" y2="470.58"/><line x1="507.01" y1="399.96" x2="624.82" y2="469.13"/><line x1="510.12" y1="398.89" x2="627.92" y2="467.68"/><line x1="513.23" y1="397.83" x2="631.01" y2="466.24"/><line x1="516.35" y1="396.76" x2="634.11" y2="464.79"/><line x1="519.46" y1="395.7" x2="637.21" y2="463.34"/><line x1="522.57" y1="394.63" x2="640.31" y2="461.89"/><line x1="525.69" y1="393.57" x2="643.4" y2="460.45"/><line x1="413.61" y1="435.13" x2="531.9" y2="394.25"/><line x1="416.73" y1="437.26" x2="534.99" y2="396"/><line x1="419.84" y1="439.39" x2="538.09" y2="397.75"/><line x1="422.95" y1="441.53" x2="541.19" y2="399.5"/><line x1="426.07" y1="443.66" x2="544.29" y2="401.25"/><line x1="429.18" y1="445.79" x2="547.38" y2="403"/><line x1="432.29" y1="447.92" x2="550.48" y2="404.75"/><line x1="435.41" y1="450.05" x2="553.58" y2="406.5"/><line x1="438.52" y1="452.18" x2="556.68" y2="408.25"/><line x1="441.63" y1="454.32" x2="559.77" y2="410"/><line x1="444.74" y1="456.45" x2="562.87" y2="411.75"/><line x1="447.86" y1="458.58" x2="565.97" y2="413.5"/><line x1="450.97" y1="460.71" x2="569.07" y2="415.25"/><line x1="454.08" y1="462.84" x2="572.16" y2="417"/><line x1="457.2" y1="464.97" x2="575.26" y2="418.75"/><line x1="460.31" y1="467.11" x2="578.36" y2="420.5"/><line x1="463.42" y1="469.24" x2="581.46" y2="422.25"/><line x1="466.54" y1="471.37" x2="584.55" y2="424"/><line x1="469.65" y1="473.5" x2="587.65" y2="425.75"/><line x1="472.76" y1="475.63" x2="590.75" y2="427.5"/><line x1="475.88" y1="477.76" x2="593.84" y2="429.25"/><line x1="478.99" y1="479.89" x2="596.94" y2="431"/><line x1="482.1" y1="482.03" x2="600.04" y2="432.75"/><line x1="485.22" y1="484.16" x2="603.14" y2="434.5"/><line x1="488.33" y1="486.29" x2="606.23" y2="436.25"/><line x1="491.44" y1="488.42" x2="609.33" y2="438"/><line x1="494.56" y1="490.55" x2="612.43" y2="439.75"/><line x1="497.67" y1="492.68" x2="615.53" y2="441.5"/><line x1="500.78" y1="494.82" x2="618.62" y2="443.25"/><line x1="503.89" y1="496.95" x2="621.72" y2="445"/><line x1="507.01" y1="499.08" x2="624.82" y2="446.75"/><line x1="510.12" y1="501.21" x2="627.92" y2="448.5"/><line x1="513.23" y1="503.34" x2="631.01" y2="450.25"/><line x1="516.35" y1="505.47" x2="634.11" y2="452"/><line x1="519.46" y1="507.61" x2="637.21" y2="453.75"/><line x1="522.57" y1="509.74" x2="640.31" y2="455.5"/><line x1="525.69" y1="511.87" x2="643.4" y2="457.25"/></g><polygon points="410.5,433 528.8,392.5 646.5,459 528.8,514" fill="url(#vs)" mask="url(#md)"/></g>
<circle cx="408.3" cy="377.9" r="1.25" fill="#111"/>
<circle cx="409.11" cy="398.3" r="1.25" fill="#111"/>
<circle cx="409.93" cy="418.7" r="1.25" fill="#111"/>
<circle cx="410.74" cy="439.1" r="1.25" fill="#111"/>
<circle cx="411.56" cy="459.5" r="1.25" fill="#111"/>
<circle cx="412.37" cy="479.9" r="1.25" fill="#111"/>
<circle cx="413.19" cy="500.3" r="1.25" fill="#111"/>
<circle cx="414" cy="520.7" r="1.25" fill="#111"/>
<circle cx="416.5" cy="564.75" r="1" fill="#111"/>
<circle cx="439.08" cy="578" r="1" fill="#111"/>
<circle cx="461.66" cy="591.25" r="1" fill="#111"/>
<circle cx="484.24" cy="604.5" r="1" fill="#111"/>
<circle cx="506.82" cy="617.75" r="1" fill="#111"/>
<circle cx="529.4" cy="631" r="1" fill="#111"/>
<circle cx="641" cy="565.25" r="1" fill="#111"/>
<circle cx="613.1" cy="581.69" r="1" fill="#111"/>
<circle cx="585.2" cy="598.12" r="1" fill="#111"/>
<circle cx="557.3" cy="614.56" r="1" fill="#111"/>
<circle cx="529.4" cy="631" r="1" fill="#111"/>
</g>
</g>
<g filter="url(#softt)">
<text x="0" y="0" font-size="9.5" text-anchor="end" fill="#484848" stroke="#484848" stroke-width="0.1" transform="translate(37.5 47.3) scale(0.76 1)">70</text>
<text x="0" y="0" font-size="9.5" text-anchor="end" fill="#484848" stroke="#484848" stroke-width="0.1" transform="translate(38.62 76.08) scale(0.76 1)">65</text>
<text x="0" y="0" font-size="9.5" text-anchor="end" fill="#484848" stroke="#484848" stroke-width="0.1" transform="translate(39.74 104.86) scale(0.76 1)">60</text>
<text x="0" y="0" font-size="9.5" text-anchor="end" fill="#484848" stroke="#484848" stroke-width="0.1" transform="translate(40.86 133.64) scale(0.76 1)">55</text>
<text x="0" y="0" font-size="9.5" text-anchor="end" fill="#484848" stroke="#484848" stroke-width="0.1" transform="translate(41.98 162.42) scale(0.76 1)">50</text>
<text x="0" y="0" font-size="9.5" text-anchor="end" fill="#484848" stroke="#484848" stroke-width="0.1" transform="translate(43.1 191.2) scale(0.76 1)">45</text>
<text x="0" y="0" font-size="9.5" text-anchor="end" fill="#484848" stroke="#484848" stroke-width="0.1" transform="translate(45.3 247.3) scale(0.76 1)">355</text>
<text x="0" y="0" font-size="9.5" text-anchor="end" fill="#484848" stroke="#484848" stroke-width="0.1" transform="translate(68.22 260.58) scale(0.76 1)">353</text>
<text x="0" y="0" font-size="9.5" text-anchor="end" fill="#484848" stroke="#484848" stroke-width="0.1" transform="translate(91.14 273.86) scale(0.76 1)">351</text>
<text x="0" y="0" font-size="9.5" text-anchor="end" fill="#484848" stroke="#484848" stroke-width="0.1" transform="translate(114.06 287.14) scale(0.76 1)">349</text>
<text x="0" y="0" font-size="9.5" text-anchor="end" fill="#484848" stroke="#484848" stroke-width="0.1" transform="translate(136.98 300.42) scale(0.76 1)">347</text>
<text x="0" y="0" font-size="9.5" text-anchor="end" fill="#484848" stroke="#484848" stroke-width="0.1" transform="translate(159.9 313.7) scale(0.76 1)">345</text>
<text x="0" y="0" font-size="9.5" text-anchor="start" fill="#484848" stroke="#484848" stroke-width="0.1" transform="translate(281.6 247.3) scale(0.76 1)">122</text>
<text x="0" y="0" font-size="9.5" text-anchor="start" fill="#484848" stroke="#484848" stroke-width="0.1" transform="translate(253.4 263.9) scale(0.76 1)">121</text>
<text x="0" y="0" font-size="9.5" text-anchor="start" fill="#484848" stroke="#484848" stroke-width="0.1" transform="translate(225.2 280.5) scale(0.76 1)">120</text>
<text x="0" y="0" font-size="9.5" text-anchor="start" fill="#484848" stroke="#484848" stroke-width="0.1" transform="translate(168.8 313.7) scale(0.76 1)">118</text>
<text x="12.5" y="24" font-size="16" text-anchor="start" fill="#000" font-weight="bold">a</text>
<text x="17" y="147" font-size="11" text-anchor="middle" fill="#000" transform="rotate(-90 17 147)" stroke="#000" stroke-width="0.5">L</text>
<text x="10" y="301" font-size="11" text-anchor="start" fill="#000" stroke="#000" stroke-width="0.5">B: screw speed (rpm)</text>
<text x="187.5" y="301" font-size="11" text-anchor="start" fill="#000" stroke="#000" stroke-width="0.5">A: barrel temperature (celcious)</text>
<text x="0" y="0" font-size="9.5" text-anchor="end" fill="#484848" stroke="#484848" stroke-width="0.1" transform="translate(393.4 33.2) scale(0.76 1)">5</text>
<text x="0" y="0" font-size="9.5" text-anchor="end" fill="#484848" stroke="#484848" stroke-width="0.1" transform="translate(394.85 69.17) scale(0.76 1)">4.5</text>
<text x="0" y="0" font-size="9.5" text-anchor="end" fill="#484848" stroke="#484848" stroke-width="0.1" transform="translate(396.3 105.15) scale(0.76 1)">4</text>
<text x="0" y="0" font-size="9.5" text-anchor="end" fill="#484848" stroke="#484848" stroke-width="0.1" transform="translate(397.75 141.12) scale(0.76 1)">3.5</text>
<text x="0" y="0" font-size="9.5" text-anchor="end" fill="#484848" stroke="#484848" stroke-width="0.1" transform="translate(399.2 177.1) scale(0.76 1)">3</text>
<text x="0" y="0" font-size="9.5" text-anchor="end" fill="#484848" stroke="#484848" stroke-width="0.1" transform="translate(402.2 232.55) scale(0.76 1)">355</text>
<text x="0" y="0" font-size="9.5" text-anchor="end" fill="#484848" stroke="#484848" stroke-width="0.1" transform="translate(425.1 245.8) scale(0.76 1)">353</text>
<text x="0" y="0" font-size="9.5" text-anchor="end" fill="#484848" stroke="#484848" stroke-width="0.1" transform="translate(448 259.05) scale(0.76 1)">351</text>
<text x="0" y="0" font-size="9.5" text-anchor="end" fill="#484848" stroke="#484848" stroke-width="0.1" transform="translate(470.9 272.3) scale(0.76 1)">349</text>
<text x="0" y="0" font-size="9.5" text-anchor="end" fill="#484848" stroke="#484848" stroke-width="0.1" transform="translate(493.8 285.55) scale(0.76 1)">347</text>
<text x="0" y="0" font-size="9.5" text-anchor="end" fill="#484848" stroke="#484848" stroke-width="0.1" transform="translate(516.7 298.8) scale(0.76 1)">345</text>
<text x="0" y="0" font-size="9.5" text-anchor="start" fill="#484848" stroke="#484848" stroke-width="0.1" transform="translate(638.1 232.55) scale(0.76 1)">122</text>
<text x="0" y="0" font-size="9.5" text-anchor="start" fill="#484848" stroke="#484848" stroke-width="0.1" transform="translate(609.98 249.11) scale(0.76 1)">121</text>
<text x="0" y="0" font-size="9.5" text-anchor="start" fill="#484848" stroke="#484848" stroke-width="0.1" transform="translate(581.85 265.68) scale(0.76 1)">120</text>
<text x="0" y="0" font-size="9.5" text-anchor="start" fill="#484848" stroke="#484848" stroke-width="0.1" transform="translate(525.6 298.8) scale(0.76 1)">118</text>
<text x="347.6" y="23.5" font-size="16" text-anchor="start" fill="#000" font-weight="bold">b</text>
<text x="375" y="132.5" font-size="11" text-anchor="middle" fill="#000" transform="rotate(-90 375 132.5)" stroke="#000" stroke-width="0.5">a</text>
<text x="366.5" y="286" font-size="11" text-anchor="start" fill="#000" stroke="#000" stroke-width="0.5">B: screw speed (rpm)</text>
<text x="544" y="287" font-size="11" text-anchor="start" fill="#000" stroke="#000" stroke-width="0.5">A: barrel temperature (celcious)</text>
<text x="0" y="0" font-size="9.7" text-anchor="end" fill="#484848" stroke="#484848" stroke-width="0.1" transform="translate(51.4 377.1) scale(0.79 1)">16000</text>
<text x="0" y="0" font-size="9.7" text-anchor="end" fill="#484848" stroke="#484848" stroke-width="0.1" transform="translate(52.3 400.22) scale(0.79 1)">14000</text>
<text x="0" y="0" font-size="9.7" text-anchor="end" fill="#484848" stroke="#484848" stroke-width="0.1" transform="translate(53.2 423.33) scale(0.79 1)">12000</text>
<text x="0" y="0" font-size="9.7" text-anchor="end" fill="#484848" stroke="#484848" stroke-width="0.1" transform="translate(54.1 446.45) scale(0.79 1)">10000</text>
<text x="0" y="0" font-size="9.7" text-anchor="end" fill="#484848" stroke="#484848" stroke-width="0.1" transform="translate(55 469.57) scale(0.79 1)">8000</text>
<text x="0" y="0" font-size="9.7" text-anchor="end" fill="#484848" stroke="#484848" stroke-width="0.1" transform="translate(55.9 492.68) scale(0.79 1)">6000</text>
<text x="0" y="0" font-size="9.7" text-anchor="end" fill="#484848" stroke="#484848" stroke-width="0.1" transform="translate(56.8 515.8) scale(0.79 1)">4000</text>
<text x="0" y="0" font-size="9.7" text-anchor="end" fill="#484848" stroke="#484848" stroke-width="0.1" transform="translate(59.45 569.8) scale(0.79 1)">122</text>
<text x="0" y="0" font-size="9.7" text-anchor="end" fill="#484848" stroke="#484848" stroke-width="0.1" transform="translate(86.81 585.8) scale(0.79 1)">121</text>
<text x="0" y="0" font-size="9.7" text-anchor="end" fill="#484848" stroke="#484848" stroke-width="0.1" transform="translate(114.17 601.8) scale(0.79 1)">120</text>
<text x="0" y="0" font-size="9.7" text-anchor="end" fill="#484848" stroke="#484848" stroke-width="0.1" transform="translate(168.9 633.8) scale(0.79 1)">118</text>
<text x="0" y="0" font-size="9.7" text-anchor="start" fill="#484848" stroke="#484848" stroke-width="0.1" transform="translate(286.6 569) scale(0.79 1)">4</text>
<text x="0" y="0" font-size="9.7" text-anchor="start" fill="#484848" stroke="#484848" stroke-width="0.1" transform="translate(264.84 581.8) scale(0.79 1)">3.4</text>
<text x="0" y="0" font-size="9.7" text-anchor="start" fill="#484848" stroke="#484848" stroke-width="0.1" transform="translate(243.08 594.6) scale(0.79 1)">2.8</text>
<text x="0" y="0" font-size="9.7" text-anchor="start" fill="#484848" stroke="#484848" stroke-width="0.1" transform="translate(221.32 607.4) scale(0.79 1)">2.2</text>
<text x="0" y="0" font-size="9.7" text-anchor="start" fill="#484848" stroke="#484848" stroke-width="0.1" transform="translate(199.56 620.2) scale(0.79 1)">1.6</text>
<text x="0" y="0" font-size="9.7" text-anchor="start" fill="#484848" stroke="#484848" stroke-width="0.1" transform="translate(177.8 633) scale(0.79 1)">1</text>
<text x="8.5" y="360.4" font-size="16" text-anchor="start" fill="#000" font-weight="bold">c</text>
<text x="26" y="473" font-size="13" text-anchor="middle" fill="#000" transform="rotate(-90 26 473)" stroke="#000" stroke-width="0.5">HARDNESS</text>
<text x="2.5" y="621.5" font-size="10.5" text-anchor="start" fill="#000" stroke="#000" stroke-width="0.5">A: barrel temperature (celcious)</text>
<text x="210.7" y="621.5" font-size="10.45" text-anchor="start" fill="#000" stroke="#000" stroke-width="0.5">C: banana powder (gram)</text>
<text x="0" y="0" font-size="9.7" text-anchor="end" fill="#484848" stroke="#484848" stroke-width="0.1" transform="translate(403.5 376) scale(0.79 1)">11000</text>
<text x="0" y="0" font-size="9.7" text-anchor="end" fill="#484848" stroke="#484848" stroke-width="0.1" transform="translate(404.31 396.4) scale(0.79 1)">10000</text>
<text x="0" y="0" font-size="9.7" text-anchor="end" fill="#484848" stroke="#484848" stroke-width="0.1" transform="translate(405.13 416.8) scale(0.79 1)">9000</text>
<text x="0" y="0" font-size="9.7" text-anchor="end" fill="#484848" stroke="#484848" stroke-width="0.1" transform="translate(405.94 437.2) scale(0.79 1)">8000</text>
<text x="0" y="0" font-size="9.7" text-anchor="end" fill="#484848" stroke="#484848" stroke-width="0.1" transform="translate(406.76 457.6) scale(0.79 1)">7000</text>
<text x="0" y="0" font-size="9.7" text-anchor="end" fill="#484848" stroke="#484848" stroke-width="0.1" transform="translate(407.57 478) scale(0.79 1)">6000</text>
<text x="0" y="0" font-size="9.7" text-anchor="end" fill="#484848" stroke="#484848" stroke-width="0.1" transform="translate(408.39 498.4) scale(0.79 1)">5000</text>
<text x="0" y="0" font-size="9.7" text-anchor="end" fill="#484848" stroke="#484848" stroke-width="0.1" transform="translate(409.2 518.8) scale(0.79 1)">4000</text>
<text x="0" y="0" font-size="9.7" text-anchor="end" fill="#484848" stroke="#484848" stroke-width="0.1" transform="translate(412.2 574.05) scale(0.79 1)">355</text>
<text x="0" y="0" font-size="9.7" text-anchor="end" fill="#484848" stroke="#484848" stroke-width="0.1" transform="translate(434.78 587.3) scale(0.79 1)">353</text>
<text x="0" y="0" font-size="9.7" text-anchor="end" fill="#484848" stroke="#484848" stroke-width="0.1" transform="translate(457.36 600.55) scale(0.79 1)">351</text>
<text x="0" y="0" font-size="9.7" text-anchor="end" fill="#484848" stroke="#484848" stroke-width="0.1" transform="translate(479.94 613.8) scale(0.79 1)">349</text>
<text x="0" y="0" font-size="9.7" text-anchor="end" fill="#484848" stroke="#484848" stroke-width="0.1" transform="translate(502.52 627.05) scale(0.79 1)">347</text>
<text x="0" y="0" font-size="9.7" text-anchor="end" fill="#484848" stroke="#484848" stroke-width="0.1" transform="translate(525.1 640.3) scale(0.79 1)">345</text>
<text x="0" y="0" font-size="9.7" text-anchor="start" fill="#484848" stroke="#484848" stroke-width="0.1" transform="translate(645.6 574.55) scale(0.79 1)">122</text>
<text x="0" y="0" font-size="9.7" text-anchor="start" fill="#484848" stroke="#484848" stroke-width="0.1" transform="translate(617.7 590.99) scale(0.79 1)">121</text>
<text x="0" y="0" font-size="9.7" text-anchor="start" fill="#484848" stroke="#484848" stroke-width="0.1" transform="translate(589.8 607.42) scale(0.79 1)">120</text>
<text x="0" y="0" font-size="9.7" text-anchor="start" fill="#484848" stroke="#484848" stroke-width="0.1" transform="translate(534 640.3) scale(0.79 1)">118</text>
<text x="363" y="356" font-size="16" text-anchor="start" fill="#000" font-weight="bold">d</text>
<text x="376.5" y="473.5" font-size="13" text-anchor="middle" fill="#000" transform="rotate(-90 376.5 473.5)" stroke="#000" stroke-width="0.5">FRACTURABILITY</text>
<text x="376.5" y="628.5" font-size="11" text-anchor="start" fill="#000" stroke="#000" stroke-width="0.5">B: screw speed (rpm)</text>
<text x="553" y="628.5" font-size="10.85" text-anchor="start" fill="#000" stroke="#000" stroke-width="0.5">A: barrel temperature (celcious)</text>
</g>
</svg>
</body></html>
